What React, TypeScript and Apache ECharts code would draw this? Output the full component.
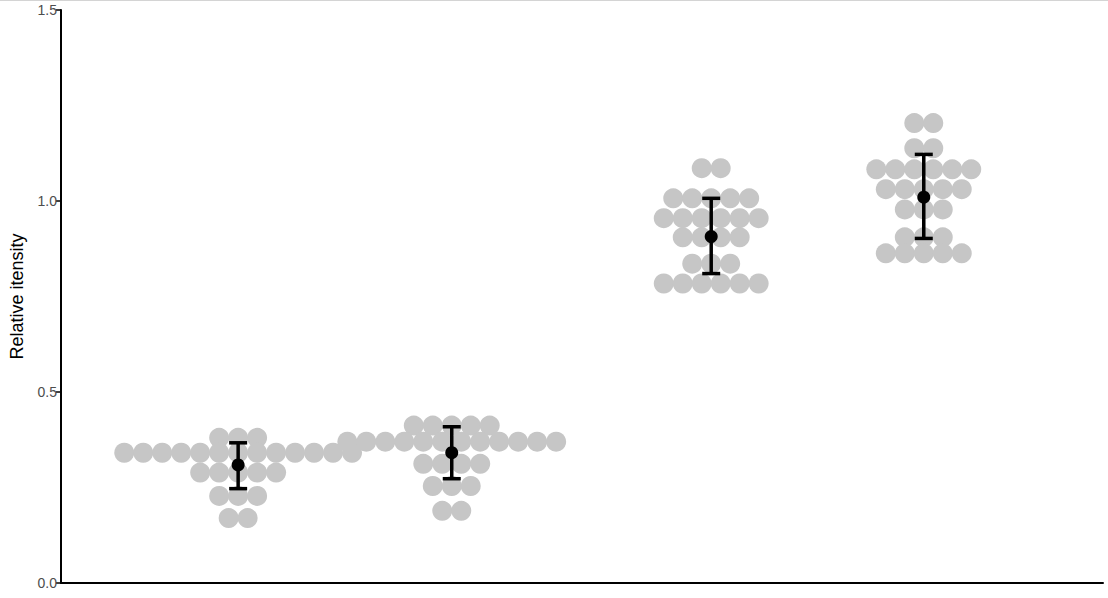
import * as echarts from "echarts";
import { useEffect, useRef } from "react";

// group centres on a 0..1 x scale
const groupX = [0.17, 0.375, 0.624, 0.828];

// dot rows per group: [y value, number of dots in the row]
const group1Rows = [
  [0.38, 3],
  [0.341, 13],
  [0.289, 5],
  [0.228, 3],
  [0.17, 2],
];
const group2Rows = [
  [0.412, 5],
  [0.37, 12],
  [0.312, 4],
  [0.254, 3],
  [0.189, 2],
];
const group3Rows = [
  [1.086, 2],
  [1.007, 5],
  [0.955, 6],
  [0.905, 4],
  [0.836, 3],
  [0.784, 6],
];
const group4Rows = [
  [1.204, 2],
  [1.138, 2],
  [1.083, 6],
  [1.031, 5],
  [0.978, 3],
  [0.905, 3],
  [0.863, 5],
];

const means = [0.309, 0.341, 0.907, 1.01];
const lower = [0.247, 0.273, 0.81, 0.902];
const upper = [0.367, 0.409, 1.007, 1.122];

const yTicks = [0, 0.5, 1, 1.5];

const DOT_STEP = 19 / 1043; // one dot width in x-axis units

function buildDots() {
  const dots: number[][] = [];
  [group1Rows, group2Rows, group3Rows, group4Rows].forEach((rows, g) => {
    rows.forEach(([y, n]) => {
      for (let i = 0; i < n; i++) {
        dots.push([groupX[g] + (i - (n - 1) / 2) * DOT_STEP, y]);
      }
    });
  });
  return dots;
}

export default function App() {
  const chartRef = useRef<HTMLDivElement | null>(null);

  useEffect(() => {
    if (!chartRef.current) return;
    const chart = echarts.init(chartRef.current, undefined, { renderer: "svg" });

    const option: echarts.EChartsOption = {
      animation: false,
      backgroundColor: "#ffffff",
      grid: { left: 60, right: 5, top: 10, bottom: 15 },
      graphic: [
        {
          type: "rect",
          left: 0,
          top: 0,
          shape: { width: 1108, height: 1 },
          style: { fill: "#d4d4d4" },
        },
      ],
      xAxis: {
        type: "value",
        min: 0,
        max: 1,
        axisLine: { show: true, lineStyle: { color: "#000", width: 2 } },
        axisTick: { show: false },
        axisLabel: { show: false },
        splitLine: { show: false },
      },
      yAxis: {
        type: "value",
        min: 0,
        max: 1.5,
        interval: 0.5,
        name: "Relative itensity",
        nameLocation: "middle",
        nameGap: 35,
        nameTextStyle: {
          color: "#000",
          fontSize: 18,
          fontFamily: "Liberation Sans",
        },
        axisLine: { show: true, lineStyle: { color: "#000", width: 2 } },
        axisTick: { show: true, length: 5, lineStyle: { color: "#000", width: 1.5 } },
        axisLabel: {
          color: "#4d4d4d",
          fontSize: 14,
          fontFamily: "Liberation Sans",
          margin: 4,
          formatter: (v: number) =>
            yTicks.includes(v) ? v.toFixed(1) : "",
        },
        splitLine: { show: false },
      },
      series: [
        {
          type: "scatter",
          data: buildDots(),
          symbolSize: 20,
          itemStyle: { color: "#c6c6c6", opacity: 1 },
          silent: true,
        },
        {
          type: "custom",
          data: means.map((m, i) => [groupX[i], lower[i], upper[i]]),
          renderItem: (params: any, api: any) => {
            const top = api.coord([api.value(0), api.value(2)]);
            const bot = api.coord([api.value(0), api.value(1)]);
            const half = 9;
            const style = { stroke: "#000", lineWidth: 3.5 };
            return {
              type: "group",
              children: [
                {
                  type: "line",
                  shape: { x1: top[0], y1: top[1], x2: bot[0], y2: bot[1] },
                  style,
                },
                {
                  type: "line",
                  shape: { x1: top[0] - half, y1: top[1], x2: top[0] + half, y2: top[1] },
                  style,
                },
                {
                  type: "line",
                  shape: { x1: bot[0] - half, y1: bot[1], x2: bot[0] + half, y2: bot[1] },
                  style,
                },
              ],
            };
          },
          z: 3,
        },
        {
          type: "scatter",
          data: means.map((m, i) => [groupX[i], m]),
          symbolSize: 13,
          itemStyle: { color: "#000", opacity: 1 },
          z: 4,
        },
      ],
    };

    chart.setOption(option);
    return () => chart.dispose();
  }, []);

  return (
    <div
      ref={chartRef}
      style={{
        position: "absolute",
        left: 0,
        top: 0,
        width: 1108,
        height: 598,
      }}
    />
  );
}
